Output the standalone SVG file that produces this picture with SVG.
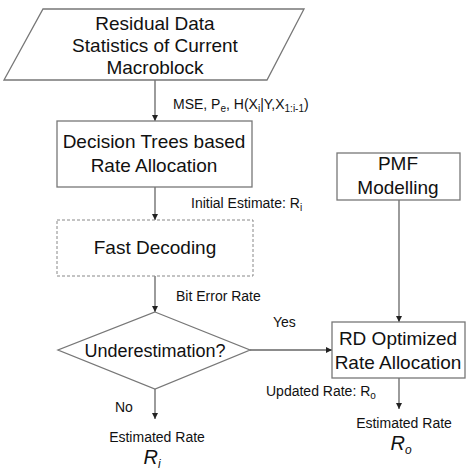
<svg xmlns="http://www.w3.org/2000/svg" width="474" height="474" viewBox="0 0 474 474">
<defs>
<marker id="arr" markerWidth="8" markerHeight="8" refX="7" refY="4" orient="auto" markerUnits="userSpaceOnUse">
<path d="M1,1 L7,4 L1,7 Z" fill="#222"/>
</marker>
<style>
text{font-family:"Liberation Sans",Arial,sans-serif;fill:#111}
.big{font-size:19px;text-anchor:middle}
.sm{font-size:14px}
.shape{fill:#fff;stroke:#777;stroke-width:1.3}
.dash{fill:#fff;stroke:#888;stroke-width:1;stroke-dasharray:3,2}
.ln{fill:none;stroke:#666;stroke-width:1.3}
.sub{font-size:10px}
</style>
</defs>
<rect width="474" height="474" fill="#fff"/>
<g id="connectors">
<line class="ln" x1="155" y1="80" x2="155" y2="121" marker-end="url(#arr)"/>
<line class="ln" x1="155" y1="187" x2="155" y2="220" marker-end="url(#arr)"/>
<line class="ln" x1="155" y1="276" x2="155" y2="312" marker-end="url(#arr)"/>
<line class="ln" x1="250" y1="350" x2="332" y2="350" marker-end="url(#arr)"/>
<line class="ln" x1="399" y1="200" x2="399" y2="322" marker-end="url(#arr)"/>
<line class="ln" x1="399" y1="378" x2="399" y2="409" marker-end="url(#arr)"/>
<line class="ln" x1="155" y1="389" x2="155" y2="419" marker-end="url(#arr)"/>
<text class="sm" x="173" y="109">MSE, P<tspan class="sub" dy="3">e</tspan><tspan dy="-3">, H(X</tspan><tspan class="sub" dy="3">i</tspan><tspan dy="-3">|Y,X</tspan><tspan class="sub" dy="3">1:i-1</tspan><tspan dy="-3">)</tspan></text>
<text class="sm" x="191" y="208">Initial Estimate: R<tspan class="sub" dy="3">i</tspan></text>
<text class="sm" x="176" y="301">Bit Error Rate</text>
<text class="sm" x="273" y="327">Yes</text>
<text class="sm" x="115" y="412">No</text>
<text class="sm" x="266" y="396">Updated Rate: R<tspan class="sub" dy="3">o</tspan></text>
</g>
<g id="input">
<polygon class="shape" points="43,9 304,9 267,80 4,80"/>
<text class="big" x="155" y="30">Residual Data</text>
<text class="big" x="155" y="52">Statistics of Current</text>
<text class="big" x="155" y="74">Macroblock</text>
</g>
<g id="decision-trees">
<rect class="shape" x="57" y="121" width="195" height="66"/>
<text class="big" x="154" y="148">Decision Trees based</text>
<text class="big" x="154" y="172">Rate Allocation</text>
</g>
<g id="fast-decoding">
<rect class="dash" x="57" y="220" width="196" height="56"/>
<text class="big" x="155" y="254">Fast Decoding</text>
</g>
<g id="underestimation">
<polygon class="shape" points="155,312 250,350 155,389 58,350"/>
<text class="big" x="155" y="357" style="font-size:18px">Underestimation?</text>
</g>
<g id="pmf">
<rect class="shape" x="337" y="153" width="123" height="47"/>
<text class="big" x="398" y="170">PMF</text>
<text class="big" x="398" y="194">Modelling</text>
</g>
<g id="rd-opt">
<rect class="shape" x="332" y="322" width="133" height="56"/>
<text class="big" x="398" y="345">RD Optimized</text>
<text class="big" x="398" y="369">Rate Allocation</text>
</g>
<g id="out-left">
<text class="sm" x="157" y="442" text-anchor="middle">Estimated Rate</text>
<text x="152" y="464" style="font-size:20px;font-style:italic" text-anchor="middle">R<tspan style="font-size:12px" dy="4">i</tspan></text>
</g>
<g id="out-right">
<text class="sm" x="404" y="428" text-anchor="middle">Estimated Rate</text>
<text x="401" y="450" style="font-size:20px;font-style:italic" text-anchor="middle">R<tspan style="font-size:12px" dy="4">o</tspan></text>
</g>
</svg>
